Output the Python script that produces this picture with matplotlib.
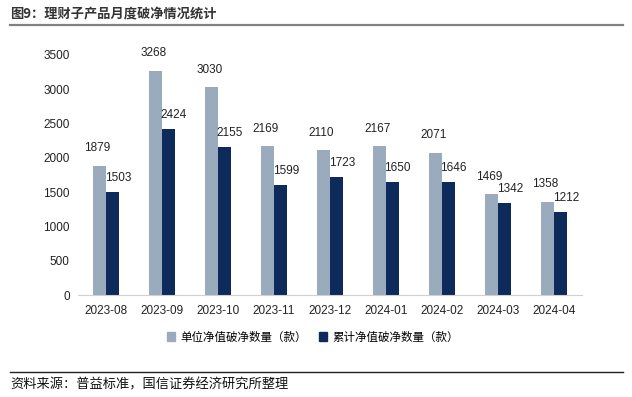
import matplotlib
matplotlib.use("Agg")
import matplotlib.pyplot as plt
import numpy as np
from matplotlib.lines import Line2D

plt.rcParams['font.family'] = ['Liberation Sans', 'Noto Sans CJK SC', 'DejaVu Sans']

categories = ["2023-08", "2023-09", "2023-10", "2023-11", "2023-12",
              "2024-01", "2024-02", "2024-03", "2024-04"]
unit_breaks = [1879, 3268, 3030, 2169, 2110, 2167, 2071, 1469, 1358]
cum_breaks = [1503, 2424, 2155, 1599, 1723, 1650, 1646, 1342, 1212]
yticks = [0, 500, 1000, 1500, 2000, 2500, 3000, 3500]

title = "图9：理财子产品月度破净情况统计"
series_names = ["单位净值破净数量（款）", "累计净值破净数量（款）"]
source = "资料来源：普益标准，国信证券经济研究所整理"

c_light = "#9aabbd"
c_dark = "#0c2a5a"

fig = plt.figure(figsize=(6.32, 3.97), dpi=100)
ax = fig.add_axes([78/632, 1-295/397, 504/632, 240/397])

x = np.arange(len(categories))
w = 0.24
ax.bar(x - w/2, unit_breaks, width=w, color=c_light, label=series_names[0])
ax.bar(x + w/2, cum_breaks, width=w, color=c_dark, label=series_names[1])

for xi, v in zip(x, unit_breaks):
    ax.text(xi - w/2 - 0.03, v + 170, str(v), ha='center', va='bottom', fontsize=8.5, color='#222222')
for xi, v in zip(x, cum_breaks):
    ax.text(xi + w/2 + 0.09, v + 115, str(v), ha='center', va='bottom', fontsize=8.5, color='#222222')

ax.set_xlim(-0.5, len(categories) - 0.5)
ax.set_ylim(0, 3500)
ax.set_yticks(yticks)
ax.set_yticklabels([str(t) for t in yticks], fontsize=8.5, color='#222222')
ax.set_xticks(x)
ax.set_xticklabels(categories, fontsize=8.5, color='#222222')
ax.tick_params(axis='both', length=0)
ax.tick_params(axis='y', pad=6)
ax.tick_params(axis='x', pad=7)
for s in ['top', 'right', 'left']:
    ax.spines[s].set_visible(False)
ax.spines['bottom'].set_color('#d0d0d0')

handles = [plt.Rectangle((0, 0), 1, 1, color=c_light), plt.Rectangle((0, 0), 1, 1, color=c_dark)]
fig.legend(handles, series_names, loc='center', bbox_to_anchor=(313/632, 1-337/397),
           ncol=2, frameon=False, handlelength=0.7, handleheight=0.7,
           handletextpad=0.5, columnspacing=1.0,
           prop={'family': ['Noto Sans CJK SC', 'DejaVu Sans'], 'size': 8.3})

fig.text(10/632, 1-14/397, title, ha='left', va='center', fontsize=9.5, weight='bold',
         family=['Noto Sans CJK SC', 'DejaVu Sans'], color='#333333')
fig.add_artist(Line2D([10/632, 623/632], [1-24.5/397, 1-24.5/397], color='#808080', lw=1.6,
                      transform=fig.transFigure))
fig.add_artist(Line2D([10/632, 623/632], [1-372/397, 1-372/397], color='#222222', lw=1.0,
                      transform=fig.transFigure))
fig.text(10/632, 1-385/397, source, ha='left', va='center', fontsize=9.5,
         family=['Noto Sans CJK SC', 'DejaVu Sans'], color='#111111')

fig.savefig("out.png", dpi=100)
